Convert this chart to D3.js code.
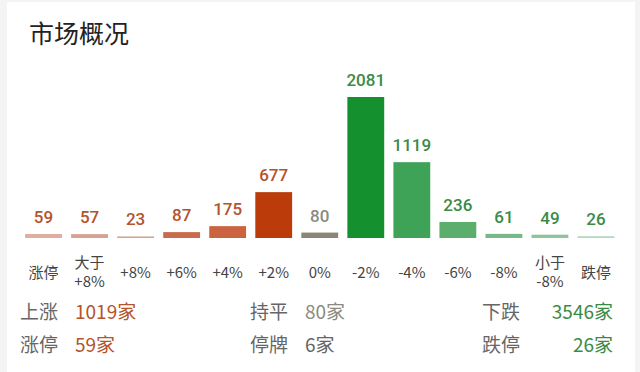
<!DOCTYPE html>
<html>
<head>
<meta charset="utf-8">
<script src="https://cdn.jsdelivr.net/npm/d3@7"></script>
<style>
  body { margin: 0; background: #f4f4f4; font-family: "Noto Sans CJK SC", "Noto Sans", sans-serif; }
  #chart { position: absolute; left: 7px; top: 2px; width: 628px; height: 370px; background: #fff; }
</style>
</head>
<body>
<div id="chart"></div>
<script>
// data
var categories = ["涨停", "大于\n+8%", "+8%", "+6%", "+4%", "+2%", "0%", "-2%", "-4%", "-6%", "-8%", "小于\n-8%", "跌停"];
var values = [59, 57, 23, 87, 175, 677, 80, 2081, 1119, 236, 61, 49, 26];
var barColors = ["#dfae9e", "#d6a291", "#d6a291", "#c86a4b", "#cb6240", "#bb3c0a", "#8c8576",
                 "#14902e", "#3ea257", "#5cae6d", "#76b886", "#8dc49a", "#b4d8bc"];
var summaryLabels = [["上涨", "持平", "下跌"], ["涨停", "停牌", "跌停"]];
var summaryValues = [["1019家", "80家", "3546家"], ["59家", "6家", "26家"]];

var redText = "#b4532c", greyText = "#8c8a80", greenText = "#3b8a45";
function textColor(i) { return i < 6 ? redText : (i == 6 ? greyText : greenText); }

var width = 640, height = 372;
var svg = d3.select("body").append("svg")
    .attr("width", width)
    .attr("height", height)
    .style("position", "absolute").style("left", 0).style("top", 0);

// title
svg.append("text")
    .attr("x", 29).attr("y", 43)
    .attr("font-size", 25).attr("font-weight", 400)
    .attr("fill", "#222")
    .text("市场概况");

// scales
var baseline = 238;
var x = d3.scaleBand()
    .domain(d3.range(categories.length))
    .range([20.5, 619])
    .paddingInner(0.2)
    .paddingOuter(0.1);
var y = d3.scaleLinear()
    .domain([0, d3.max(values)])
    .range([baseline, 97]);

var bars = svg.selectAll(".bar")
    .data(values)
    .enter()
    .append("g");

bars.append("rect")
    .attr("x", function(d, i) { return x(i); })
    .attr("y", function(d) { return y(d); })
    .attr("width", x.bandwidth())
    .attr("height", function(d) { return baseline - y(d); })
    .style("fill", function(d, i) { return barColors[i]; });

bars.append("text")
    .attr("x", function(d, i) { return x(i) + x.bandwidth() / 2; })
    .attr("y", function(d) { return y(d) - 11; })
    .attr("text-anchor", "middle")
    .attr("font-size", 17).attr("font-weight", 500)
    .attr("font-family", "Roboto, 'Noto Sans', sans-serif")
    .attr("fill", function(d, i) { return textColor(i); })
    .text(function(d) { return d; });

// category labels
var cat = svg.selectAll(".cat")
    .data(categories)
    .enter()
    .append("text")
    .attr("text-anchor", "middle")
    .attr("font-size", 15)
    .attr("fill", "#444")
    .attr("transform", function(d, i) { return "translate(" + (x(i) + x.bandwidth() / 2) + ",0)"; });

cat.each(function(d) {
    var lines = d.split("\n");
    var t = d3.select(this);
    lines.forEach(function(l, k) {
        var yy = lines.length == 1 ? 278 : 268 + k * 19;
        t.append("tspan").attr("x", 0).attr("y", yy).text(l);
    });
});

// summary rows
var colX = [20, 250, 482];
var valX = [75, 305, 613];
var valColors = [[redText, greyText, greenText], [redText, "#666", greenText]];
summaryLabels.forEach(function(row, r) {
    var yy = 319 + r * 33;
    row.forEach(function(lab, c) {
        svg.append("text")
            .attr("x", colX[c]).attr("y", yy)
            .attr("font-size", 19).attr("fill", "#666")
            .text(lab);
        svg.append("text")
            .attr("x", valX[c]).attr("y", yy)
            .attr("text-anchor", c == 2 ? "end" : "start")
            .attr("font-size", 19)
            .attr("fill", valColors[r][c])
            .text(summaryValues[r][c]);
    });
});
</script>
</body>
</html>
